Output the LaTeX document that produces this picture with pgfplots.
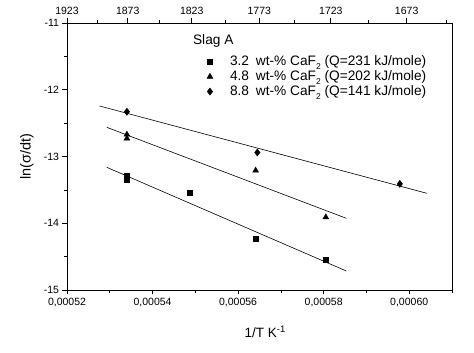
\documentclass[border=0pt]{standalone}
\usepackage{fontspec}
\setmainfont{Liberation Sans}
\usepackage{pgfplots}
\pgfplotsset{compat=1.18}
\begin{document}
\begin{tikzpicture}
\begin{axis}[name=main, scale only axis, width=385pt, height=267pt,
  xmin=0.00052, xmax=0.00061, ymin=-15, ymax=-11,
  xtick={0.00052,0.00054,0.00056,0.00058,0.00060},
  xticklabels={{0,00052},{0,00054},{0,00056},{0,00058},{0,00060}},
  minor xtick={0.00053,0.00055,0.00057,0.00059,0.00061},
  ytick={-15,-14,-13,-12,-11}, yticklabels={-15,-14,-13,-12,-11},
  minor ytick={-14.5,-13.5,-12.5,-11.5},
  xtick pos=bottom, ytick pos=left, tick align=outside,
  major tick length=4.5pt, minor tick length=3pt,
  scaled x ticks=false,
  tick label style={font=\fontsize{10.5}{12}\selectfont},
  every tick/.style={black, line width=0.7pt},
  axis line style={line width=0.8pt},
  xlabel={1/T K\textsuperscript{-1}},
  ylabel={ln(σ/dt)},
  every axis x label/.style={at={(axis description cs:0.515,-0.157)}, anchor=center, font=\fontsize{13.5}{15}\selectfont},
  every axis y label/.style={at={(axis description cs:-0.104,0.5)}, rotate=90, anchor=center, font=\fontsize{14.5}{16}\selectfont},
  legend style={at={(axis description cs:0.356,0.879)}, anchor=north west, draw=none, fill=none,
    font=\fontsize{13.7}{15}\selectfont, row sep=2.5pt, inner sep=0pt,
    nodes={inner xsep=3pt, inner ysep=0.5pt}},
  legend image code/.code={\path[draw=none,fill=none] (0cm,0cm) -- (0.8cm,0cm); \draw[#1] plot coordinates {(0.2cm,0cm)};},
  legend cell align=left,
]
\addplot[only marks, mark=square*, mark size=2.6pt] coordinates {
 (0.000534,-13.29) (0.000534,-13.34) (0.0005486,-13.54) (0.0005641,-14.23) (0.0005805,-14.55)};
\addlegendentry{3.2\enspace wt-\% CaF\raisebox{-0.5ex}{\fontsize{8.5}{8}\selectfont 2} (Q=231 kJ/mole)}
\addplot[only marks, mark=triangle*, mark size=3.4pt] coordinates {
 (0.000534,-12.67) (0.000534,-12.73) (0.0005641,-13.21) (0.0005805,-13.91)};
\addlegendentry{4.8\enspace wt-\% CaF\raisebox{-0.5ex}{\fontsize{8.5}{8}\selectfont 2} (Q=202 kJ/mole)}
\addplot[only marks, mark=diamond*, mark size=3.6pt] coordinates {
 (0.000534,-12.33) (0.0005645,-12.94) (0.0005978,-13.41)};
\addlegendentry{8.8\enspace wt-\% CaF\raisebox{-0.5ex}{\fontsize{8.5}{8}\selectfont 2} (Q=141 kJ/mole)}
\addplot[black, line width=0.6pt, forget plot] coordinates {(0.0005293,-13.162) (0.0005853,-14.715)};
\addplot[black, line width=0.6pt, forget plot] coordinates {(0.0005293,-12.563) (0.0005853,-13.926)};
\addplot[black, line width=0.6pt, forget plot] coordinates {(0.0005276,-12.243) (0.0006041,-13.551)};
\node[anchor=west, font=\fontsize{13.7}{15}\selectfont, inner sep=0pt] at (axis description cs:0.327,0.933) {Slag A};
\end{axis}
\begin{axis}[at={(main.south west)}, anchor=south west, scale only axis, width=385pt, height=267pt,
  xmin=0.000520021, xmax=0.00060810, ymin=-15, ymax=-11,
  axis x line*=top, hide y axis,
  xtick={0.000520021,0.000533903,0.000548546,0.000564016,0.000580383,0.000597729},
  xticklabels={1923,1873,1823,1773,1723,1673},
  minor xtick={0.000526870,0.000541126,0.000556174,0.000572082,0.000588928,0.000606796},
  tick align=outside, scaled x ticks=false,
  major tick length=4.5pt, minor tick length=3pt,
  tick label style={font=\fontsize{10.5}{12}\selectfont},
  every tick/.style={black, line width=0.7pt},
  axis line style={line width=0.8pt},
]
\end{axis}
\path (main.south west) ++(-67pt,-63pt) rectangle ++(474pt,353pt);
\end{tikzpicture}
\end{document}
